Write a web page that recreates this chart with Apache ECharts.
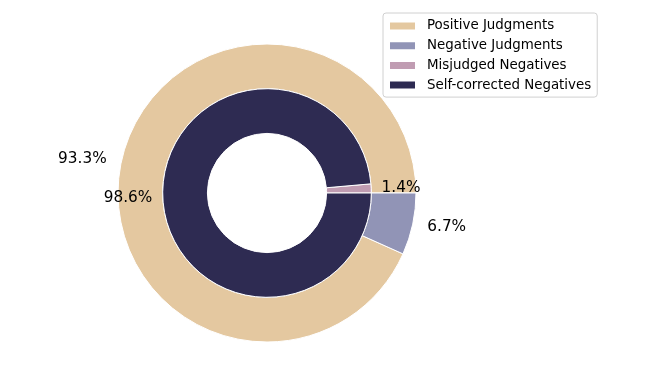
<!DOCTYPE html>
<html>
<head>
<meta charset="utf-8">
<script src="https://cdn.jsdelivr.net/npm/echarts@6/dist/echarts.min.js"></script>
<style>html,body{margin:0;padding:0;background:#fff;}#c{width:666px;height:377px;}</style>
</head>
<body>
<div id="c"></div>
<script>
const outerNames = ['Positive Judgments', 'Negative Judgments'];
const outerValues = [93.3, 6.7];
const innerNames = ['Misjudged Negatives', 'Self-corrected Negatives'];
const innerValues = [1.4, 98.6];
const outerColors = ['#E4C8A0', '#9194B6'];
const innerColors = ['#C09CB2', '#2E2B52'];

const chart = echarts.init(document.getElementById('c'), null, {renderer: 'canvas'});
const font = 'DejaVu Sans';
const R = 149;
function mk(names, vals, colors) {
  return names.map((n, i) => ({name: n, value: vals[i], itemStyle: {color: colors[i]}}));
}
const labelCommon = {
  show: true,
  position: 'outside',
  formatter: p => p.value.toFixed(1) + '%',
  fontFamily: font,
  fontSize: 15.3,
  color: '#000',
  distanceToLabelLine: 0
};
chart.setOption({
  animation: false,
  legend: {
    orient: 'vertical',
    left: 383,
    top: 13,
    data: outerNames.concat(innerNames),
    icon: 'rect',
    itemWidth: 27,
    itemHeight: 9,
    itemGap: 3.7,
    padding: [5, 6, 4, 5],
    borderColor: '#d0d0d0',
    borderWidth: 1,
    borderRadius: 3,
    backgroundColor: 'rgba(255,255,255,0.8)',
    selectedMode: false,
    textStyle: {fontFamily: font, fontSize: 13.4, color: '#000', lineHeight: 16, padding: [0, 0, 0, 6]}
  },
  series: [
    {
      type: 'pie',
      center: [267, 193],
      radius: [R * 0.7, R],
      startAngle: 0,
      clockwise: false,
      avoidLabelOverlap: false,
      silent: true,
      z: 2,
      itemStyle: {borderColor: '#fff', borderWidth: 1},
      label: labelCommon,
      labelLine: {show: false, length: R * 0.1, length2: 0},
      data: mk(outerNames, outerValues, outerColors)
    },
    {
      type: 'pie',
      center: [267, 193],
      radius: [R * 0.4, R * 0.7],
      startAngle: 0,
      clockwise: false,
      avoidLabelOverlap: false,
      silent: true,
      z: 3,
      itemStyle: {borderColor: '#fff', borderWidth: 1},
      label: labelCommon,
      labelLine: {show: false, length: R * 0.07, length2: 0},
      data: mk(innerNames, innerValues, innerColors)
    }
  ]
});
</script>
</body>
</html>
